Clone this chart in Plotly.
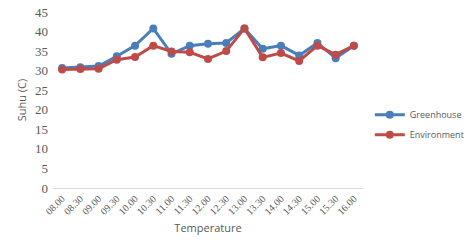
import plotly.graph_objects as go

times = ["08.00", "08.30", "09.00", "09.30", "10.00", "10.30", "11.00", "11.30", "12.00",
         "12.30", "13.00", "13.30", "14.00", "14.30", "15.00", "15.30", "16.00"]
greenhouse = [30.7, 30.9, 31.2, 33.7, 36.4, 40.8, 34.3, 36.4, 36.9, 37.1, 40.8, 35.6, 36.4, 33.9, 37.1, 33.2, 36.4]
environment = [30.3, 30.4, 30.5, 32.8, 33.5, 36.4, 34.9, 34.7, 33.0, 35.0, 40.8, 33.4, 34.5, 32.5, 36.4, 34.1, 36.4]

fig = go.Figure()
fig.add_trace(go.Scatter(x=times, y=greenhouse, name="Greenhouse", mode="lines+markers", legendgroup="g",
                         line=dict(color="#4a7ebb", width=3), marker=dict(size=8, color="#4a7ebb")))
fig.add_trace(go.Scatter(x=times, y=environment, name="Environment", mode="lines+markers", legendgroup="e",
                         line=dict(color="#be4b48", width=3), marker=dict(size=8, color="#be4b48")))

fig.update_layout(
    width=474, height=248,
    margin=dict(l=53, r=111, t=12, b=60, autoexpand=False),
    paper_bgcolor="white", plot_bgcolor="white",
    showlegend=True,
    legend=dict(x=1.022, y=0.36, xanchor="left", yanchor="middle",
                font=dict(family="Open Sans, sans-serif", size=9, color="#595959"),
                tracegroupgap=1, itemwidth=30),
)
fig.update_xaxes(
    type="category", range=[-0.5, len(times) - 0.5], tickangle=-45, showgrid=False,
    showline=True, linecolor="#d9d9d9", linewidth=1, ticks="", automargin=False,
    tickfont=dict(family="Liberation Serif, serif", size=10, color="#595959"),
    title=dict(text="Temperature", font=dict(family="Open Sans, sans-serif", size=11, color="#595959"),
               standoff=8),
)
fig.update_yaxes(
    range=[0, 45], dtick=5, showgrid=False, showline=False, zeroline=False, ticks="",
    ticklabelstandoff=4, automargin=False,
    tickfont=dict(family="Liberation Serif, serif", size=13, color="#595959"),
    title=dict(text="Suhu (C)", font=dict(family="Open Sans, sans-serif", size=11, color="#595959"),
               standoff=6),
)

fig.write_html("out.html")
